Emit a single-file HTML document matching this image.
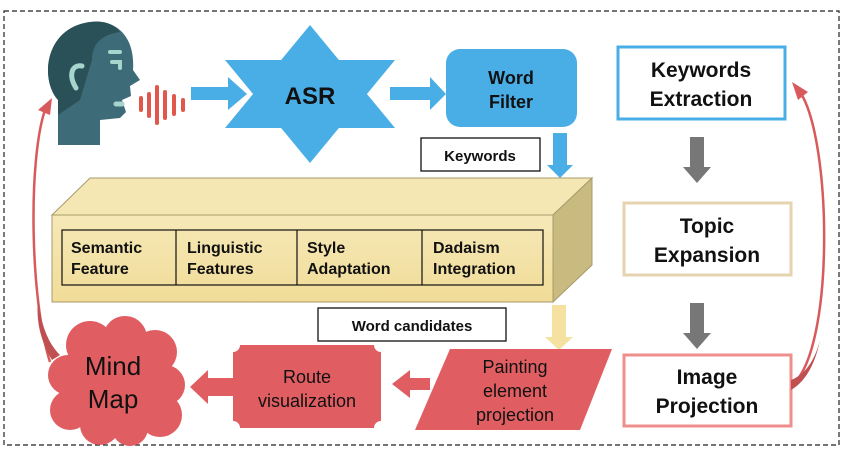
<!DOCTYPE html>
<html><head><meta charset="utf-8"><style>
html,body{margin:0;padding:0;background:#fff;}
svg text{font-family:"Liberation Sans",Arial,sans-serif;}
</style></head><body>
<svg width="846" height="456" viewBox="0 0 846 456" xmlns="http://www.w3.org/2000/svg">
<defs>
<linearGradient id="y" x1="0" y1="0" x2="0" y2="1"><stop offset="0" stop-color="#f6e9b8"/><stop offset="1" stop-color="#f1dc98"/></linearGradient>
</defs>
<rect x="4" y="11" width="835" height="434" fill="none" stroke="#222" stroke-width="1.2" stroke-dasharray="5,3"/>

<!-- head -->
<path d="M58,145 L58,100 C40,80 44,28 90,22 C120,19 135,40 133,70 L140,80 L130,86 L131,96 L122,100 L126,112 L120,118 L100,120 L100,145 Z" fill="#3e6b78"/>
<path d="M58,100 C40,80 44,28 90,22 C105,20 115,25 120,32 C100,35 92,45 92,60 L80,100 L58,115 Z" fill="#2b5158"/>
<path d="M76,88 C68,75 72,64 82,66" fill="none" stroke="#a7d4cc" stroke-width="5" stroke-linecap="round"/>
<path d="M110,52 h10 M112,62 h8 v6" fill="none" stroke="#a7d4cc" stroke-width="4" stroke-linecap="round"/>
<path d="M122,104 h-6" stroke="#a7d4cc" stroke-width="5" stroke-linecap="round"/>
<g stroke="#e0584c" stroke-width="4" stroke-linecap="round">
<line x1="141" y1="98" x2="141" y2="110"/><line x1="149" y1="94" x2="149" y2="116"/><line x1="157" y1="87" x2="157" y2="123"/><line x1="165" y1="92" x2="165" y2="118"/><line x1="174" y1="96" x2="174" y2="114"/><line x1="183" y1="100" x2="183" y2="110"/></g>

<!-- blue arrows -->
<path d="M191,87 H228 V77 L247,94 L228,110 V100 H191 Z" fill="#4aaee6"/>
<path d="M390,87 H430 V77 L446,94 L430,110 V100 H390 Z" fill="#4aaee6"/>
<!-- star -->
<polygon points="310,25 395,128 225,128" fill="#4aaee6"/>
<polygon points="225,60 395,60 310,163" fill="#4aaee6"/>
<text x="310" y="104" font-size="24" font-weight="bold" text-anchor="middle" fill="#111">ASR</text>
<!-- word filter -->
<rect x="446" y="49" width="131" height="78" rx="14" fill="#4aaee6"/>
<text x="511" y="84" font-size="18" font-weight="bold" text-anchor="middle" fill="#111">Word</text>
<text x="511" y="108" font-size="18" font-weight="bold" text-anchor="middle" fill="#111">Filter</text>
<rect x="421" y="138" width="119" height="33" fill="#fff" stroke="#111" stroke-width="1.3"/>
<text x="480" y="161" font-size="15" font-weight="bold" text-anchor="middle" fill="#111">Keywords</text>
<path d="M553,133 H567 V165 H573 L560,178 L547,165 H553 Z" fill="#4aaee6"/>

<!-- 3D box -->
<polygon points="52,215 90,178 592,178 553,215" fill="#f5e7b4" stroke="#a89a6a" stroke-width="1"/>
<polygon points="553,215 592,178 592,265 553,302" fill="#c9bb80" stroke="#a89a6a" stroke-width="1"/>
<rect x="52" y="215" width="501" height="87" fill="url(#y)" stroke="#a89a6a" stroke-width="1"/>
<rect x="62" y="230" width="481" height="55" fill="none" stroke="#111" stroke-width="1.2"/>
<line x1="176" y1="230" x2="176" y2="285" stroke="#111" stroke-width="1.2"/>
<line x1="297" y1="230" x2="297" y2="285" stroke="#111" stroke-width="1.2"/>
<line x1="422" y1="230" x2="422" y2="285" stroke="#111" stroke-width="1.2"/>
<g font-size="16" font-weight="bold" fill="#111">
<text x="71" y="253">Semantic</text><text x="71" y="274">Feature</text>
<text x="187" y="253">Linguistic</text><text x="187" y="274">Features</text>
<text x="307" y="253">Style</text><text x="307" y="274">Adaptation</text>
<text x="433" y="253">Dadaism</text><text x="433" y="274">Integration</text>
</g>

<rect x="318" y="308" width="188" height="33" fill="#fff" stroke="#111" stroke-width="1.3"/>
<text x="412" y="331" font-size="15" font-weight="bold" text-anchor="middle" fill="#111">Word candidates</text>
<path d="M552,305 H566 V337 H573 L559,350 L545,337 H552 Z" fill="#f5e2a0"/>

<!-- painting -->
<polygon points="450,349 612,349 580,430 415,430" fill="#e05e62"/>
<g font-size="18" fill="#111" text-anchor="middle">
<text x="515" y="373">Painting</text><text x="515" y="397">element</text><text x="515" y="421">projection</text></g>
<path d="M430,378 H410 V370 L392,384 L410,398 V390 H430 Z" fill="#e05e62"/>
<!-- route -->
<path d="M240,345 H374 A7,7 0 0 0 381,352 V421 A7,7 0 0 0 374,428 H240 A7,7 0 0 0 233,421 V352 A7,7 0 0 0 240,345 Z" fill="#e05e62"/>
<text x="307" y="383" font-size="18" fill="#111" text-anchor="middle">Route</text>
<text x="307" y="407" font-size="18" fill="#111" text-anchor="middle">visualization</text>
<path d="M233,378 H208 V370 L190,387 L208,404 V396 H233 Z" fill="#e05e62"/>
<!-- cloud -->
<g fill="#e05e62">
<circle cx="90" cy="345" r="24"/><circle cx="125" cy="338" r="22"/><circle cx="155" cy="352" r="22"/>
<circle cx="68" cy="375" r="20"/><circle cx="165" cy="385" r="20"/><circle cx="70" cy="410" r="20"/>
<circle cx="160" cy="415" r="22"/><circle cx="100" cy="425" r="20"/><circle cx="130" cy="428" r="18"/>
<circle cx="115" cy="385" r="45"/></g>
<text x="113" y="375" font-size="26" fill="#111" text-anchor="middle">Mind</text>
<text x="113" y="408" font-size="26" fill="#111" text-anchor="middle">Map</text>

<!-- left curve -->
<path d="M50,362 C30,300 28,160 45,110" fill="none" stroke="#d85a5c" stroke-width="2.5"/>
<path d="M52,360 C40,340 36,320 38,300 C42,330 50,345 60,355 Z" fill="#c04f52"/>
<polygon points="52,98 38,110 50,115" fill="#d85a5c"/>

<!-- right column -->
<rect x="618" y="47" width="167" height="72" fill="#fff" stroke="#4aaee6" stroke-width="3"/>
<text x="701" y="77" font-size="21" font-weight="bold" text-anchor="middle" fill="#111">Keywords</text>
<text x="701" y="106" font-size="21" font-weight="bold" text-anchor="middle" fill="#111">Extraction</text>
<path d="M690,137 H704 V167 H711 L697,183 L683,167 H690 Z" fill="#777"/>
<rect x="624" y="203" width="167" height="72" fill="#fff" stroke="#e6d3b0" stroke-width="3"/>
<text x="707" y="233" font-size="21" font-weight="bold" text-anchor="middle" fill="#111">Topic</text>
<text x="707" y="262" font-size="21" font-weight="bold" text-anchor="middle" fill="#111">Expansion</text>
<path d="M690,303 H704 V333 H711 L697,349 L683,333 H690 Z" fill="#777"/>
<rect x="624" y="355" width="167" height="71" fill="#fff" stroke="#ef8f8d" stroke-width="3"/>
<text x="707" y="384" font-size="21" font-weight="bold" text-anchor="middle" fill="#111">Image</text>
<text x="707" y="413" font-size="21" font-weight="bold" text-anchor="middle" fill="#111">Projection</text>
<!-- right curve -->
<path d="M792,385 C835,350 832,140 800,92" fill="none" stroke="#d85a5c" stroke-width="2.5"/>
<path d="M791,380 C805,375 815,360 820,340 C815,365 805,382 791,390 Z" fill="#c04f52"/>
<polygon points="792,82 808,92 798,100" fill="#d85a5c"/>
</svg>
</body></html>
